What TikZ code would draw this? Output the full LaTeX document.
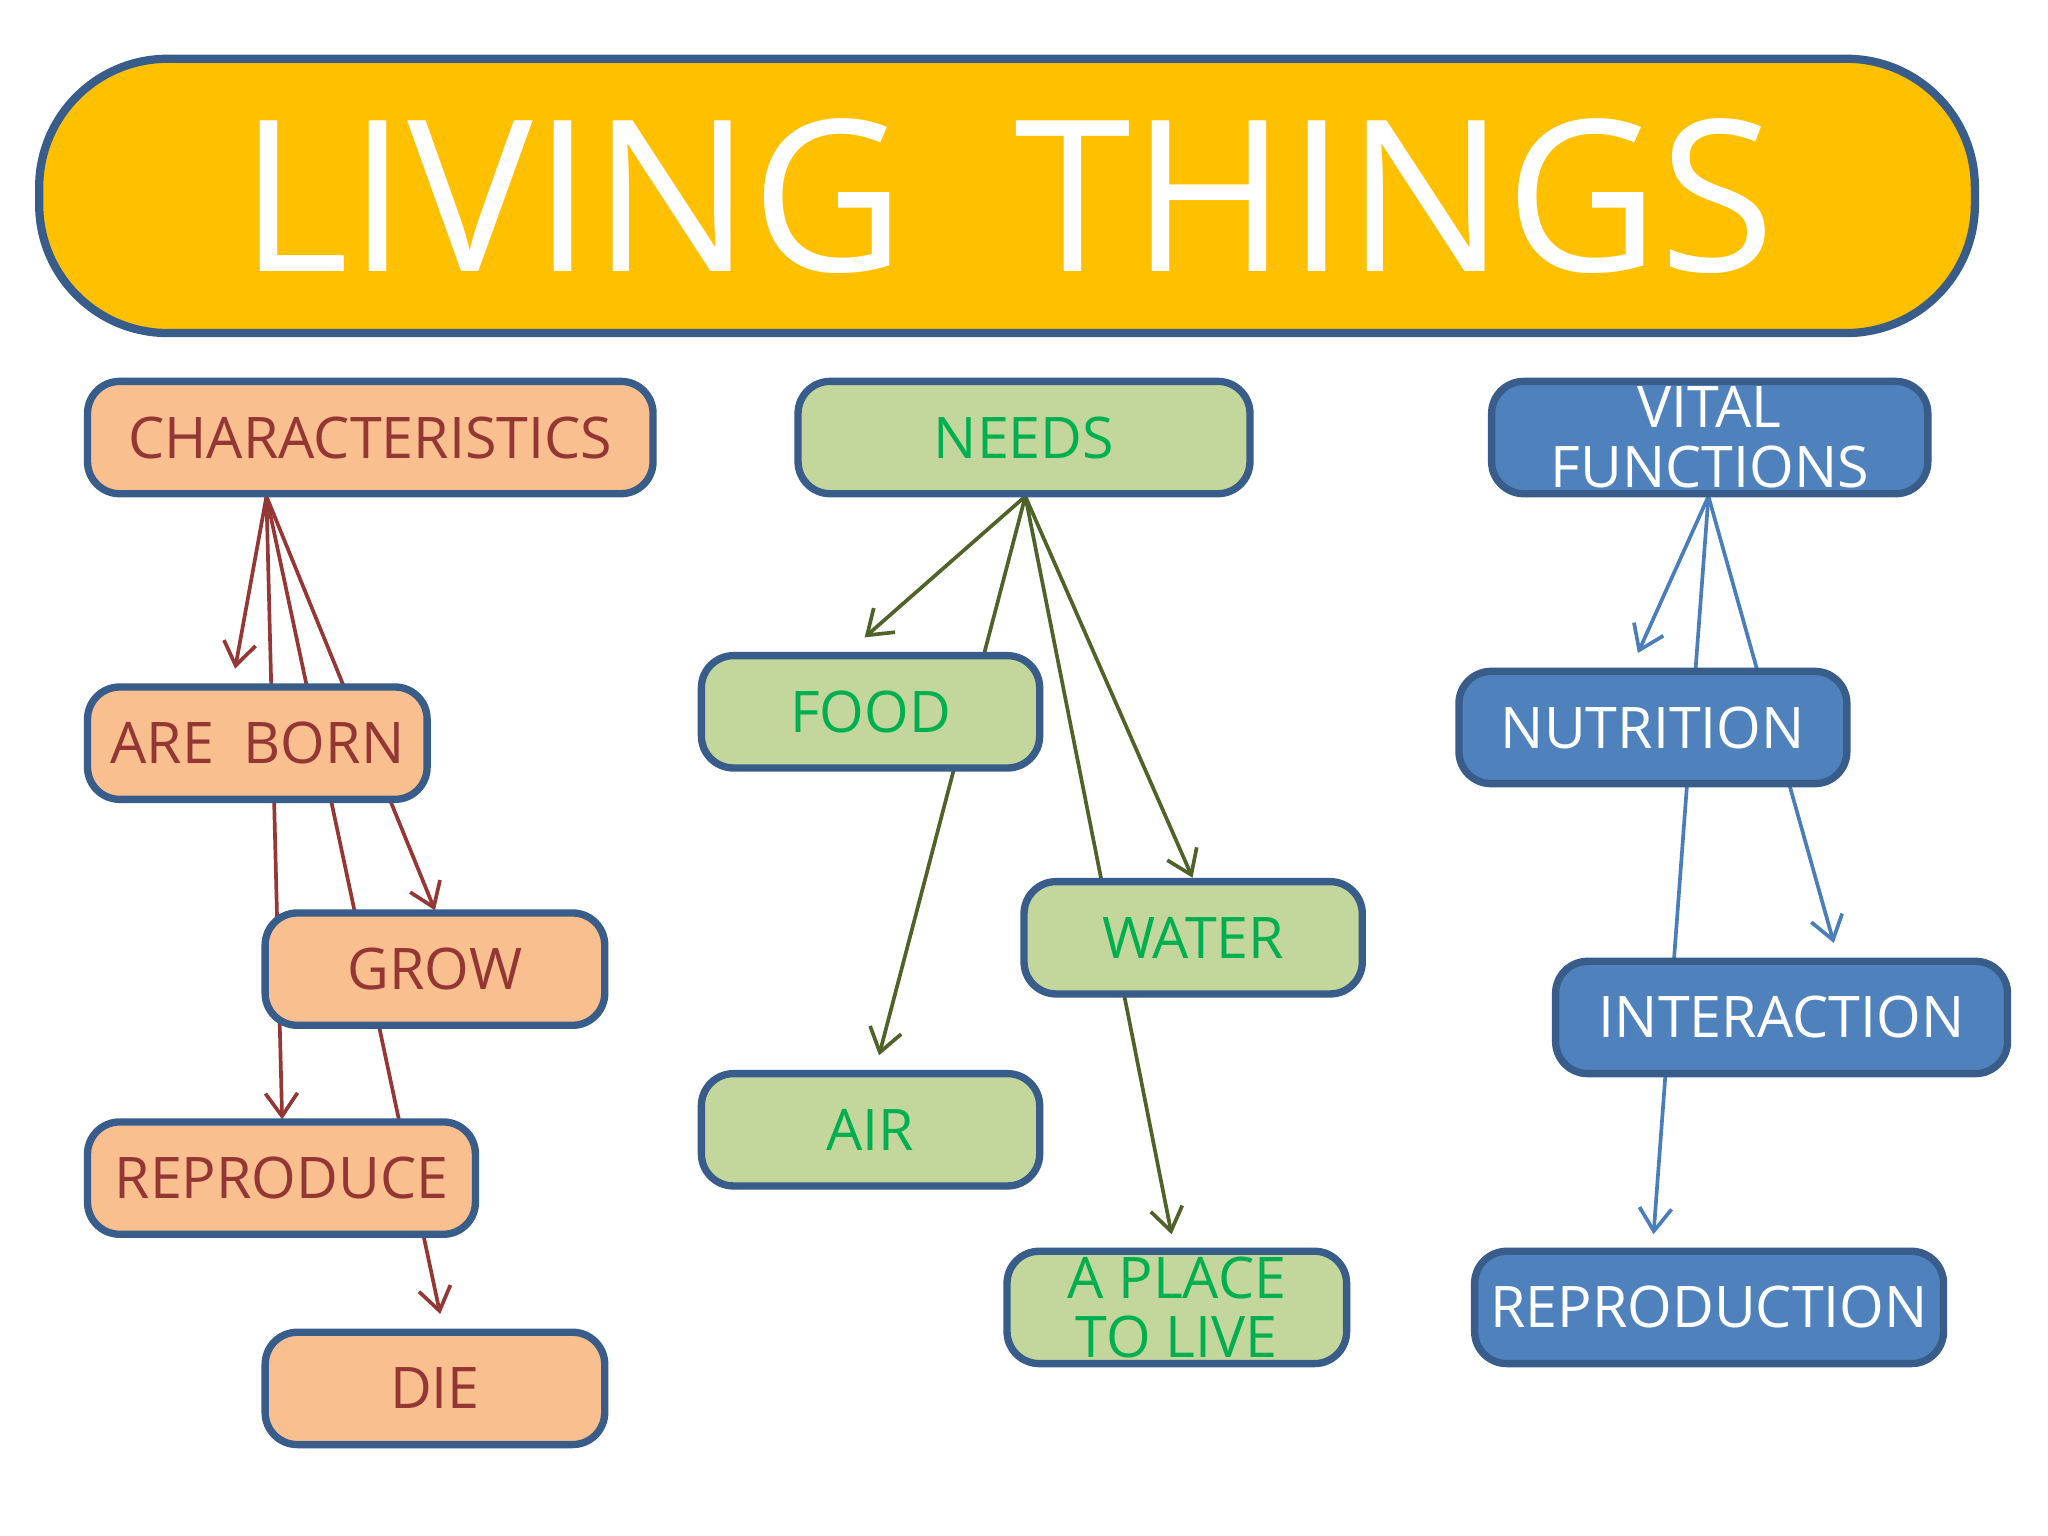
\documentclass[tikz,border=0pt]{standalone}
\usepackage{fontspec}
\setmainfont{Open Sans}
\usetikzlibrary{arrows.meta}
\definecolor{bord}{HTML}{385D8A}
\definecolor{orfill}{HTML}{F9BF8F}
\definecolor{ortext}{HTML}{943634}
\definecolor{grfill}{HTML}{C3D69B}
\definecolor{grtext}{HTML}{00B050}
\definecolor{blfill}{HTML}{4F81BD}
\definecolor{redarr}{HTML}{953735}
\definecolor{grarr}{HTML}{4F6228}
\definecolor{blarr}{HTML}{4A7EBB}
\tikzset{
 box/.style={draw=bord,line width=1.6pt,rounded corners=7pt,inner sep=0pt,align=center,font=\fontsize{12.5}{14}\selectfont},
 ob/.style={box,fill=orfill,text=ortext},
 gb/.style={box,fill=grfill,text=grtext},
 bb/.style={box,fill=blfill,text=white},
 arr/.style={-{Straight Barb[length=5pt,width=7pt]},line width=0.8pt},
}
\begin{document}
\begin{tikzpicture}
\useasboundingbox (0,0) rectangle (15.68,-11.76);
\fill[white] (0,0) rectangle (15.68,-11.76);
% arrows (behind)
\coordinate (cs) at (2.04,-3.80);
\coordinate (ns) at (7.85,-3.80);
\coordinate (vs) at (13.08,-3.80);
\coordinate (t1) at (1.80,-5.12);
\coordinate (t2) at (3.33,-6.97);
\coordinate (t3) at (2.16,-8.57);
\coordinate (t4) at (3.37,-10.06);
\coordinate (t5) at (6.62,-4.88);
\coordinate (t6) at (6.73,-8.08);
\coordinate (t7) at (9.13,-6.72);
\coordinate (t8) at (8.97,-9.45);
\coordinate (t9) at (12.54,-5.00);
\coordinate (t10) at (14.04,-7.22);
\coordinate (t11) at (12.66,-9.45);
\foreach \t in {t1,t2,t3,t4} \draw[arr,redarr] (cs) -- (\t);
\foreach \t in {t5,t6,t7,t8} \draw[arr,grarr] (ns) -- (\t);
\foreach \t in {t9,t10,t11} \draw[arr,blarr] (vs) -- (\t);
% title
\node[draw=bord,line width=1.8pt,rounded corners=28pt,fill=orange!0!yellow!100,fill={rgb,255:red,255;green,192;blue,0},minimum width=14.82cm,minimum height=2.10cm,text=white,font=\fontsize{46}{50}\selectfont] (title) at (7.71,-1.50) {LIVING\ \ THINGS};
% orange
\node[ob,minimum width=4.33cm,minimum height=0.86cm] (ch) at (2.835,-3.35) {CHARACTERISTICS};
\node[ob,minimum width=2.60cm,minimum height=0.86cm] (ab) at (1.97,-5.69) {ARE\ \ BORN};
\node[ob,minimum width=2.60cm,minimum height=0.86cm] (gr) at (3.33,-7.42) {GROW};
\node[ob,minimum width=2.97cm,minimum height=0.86cm] (rp) at (2.155,-9.02) {REPRODUCE};
\node[ob,minimum width=2.60cm,minimum height=0.86cm] (di) at (3.33,-10.63) {DIE};
% green
\node[gb,minimum width=3.46cm,minimum height=0.86cm] (ne) at (7.84,-3.35) {NEEDS};
\node[gb,minimum width=2.59cm,minimum height=0.86cm] (fo) at (6.665,-5.45) {FOOD};
\node[gb,minimum width=2.59cm,minimum height=0.86cm] (wa) at (9.135,-7.18) {WATER};
\node[gb,minimum width=2.59cm,minimum height=0.86cm] (ai) at (6.665,-8.65) {AIR};
\node[gb,minimum width=2.60cm,minimum height=0.86cm,font=\fontsize{12.5}{13}\selectfont] (pl) at (9.01,-10.01) {A PLACE\\TO LIVE};
% blue
\node[bb,minimum width=3.34cm,minimum height=0.86cm,font=\fontsize{12.5}{13}\selectfont] (vf) at (13.09,-3.35) {VITAL\\FUNCTIONS};
\node[bb,minimum width=2.97cm,minimum height=0.86cm] (nu) at (12.655,-5.57) {NUTRITION};
\node[bb,minimum width=3.46cm,minimum height=0.86cm] (in) at (13.64,-7.79) {INTERACTION};
\node[bb,minimum width=3.59cm,minimum height=0.86cm] (re) at (13.085,-10.01) {REPRODUCTION};
\end{tikzpicture}
\end{document}
